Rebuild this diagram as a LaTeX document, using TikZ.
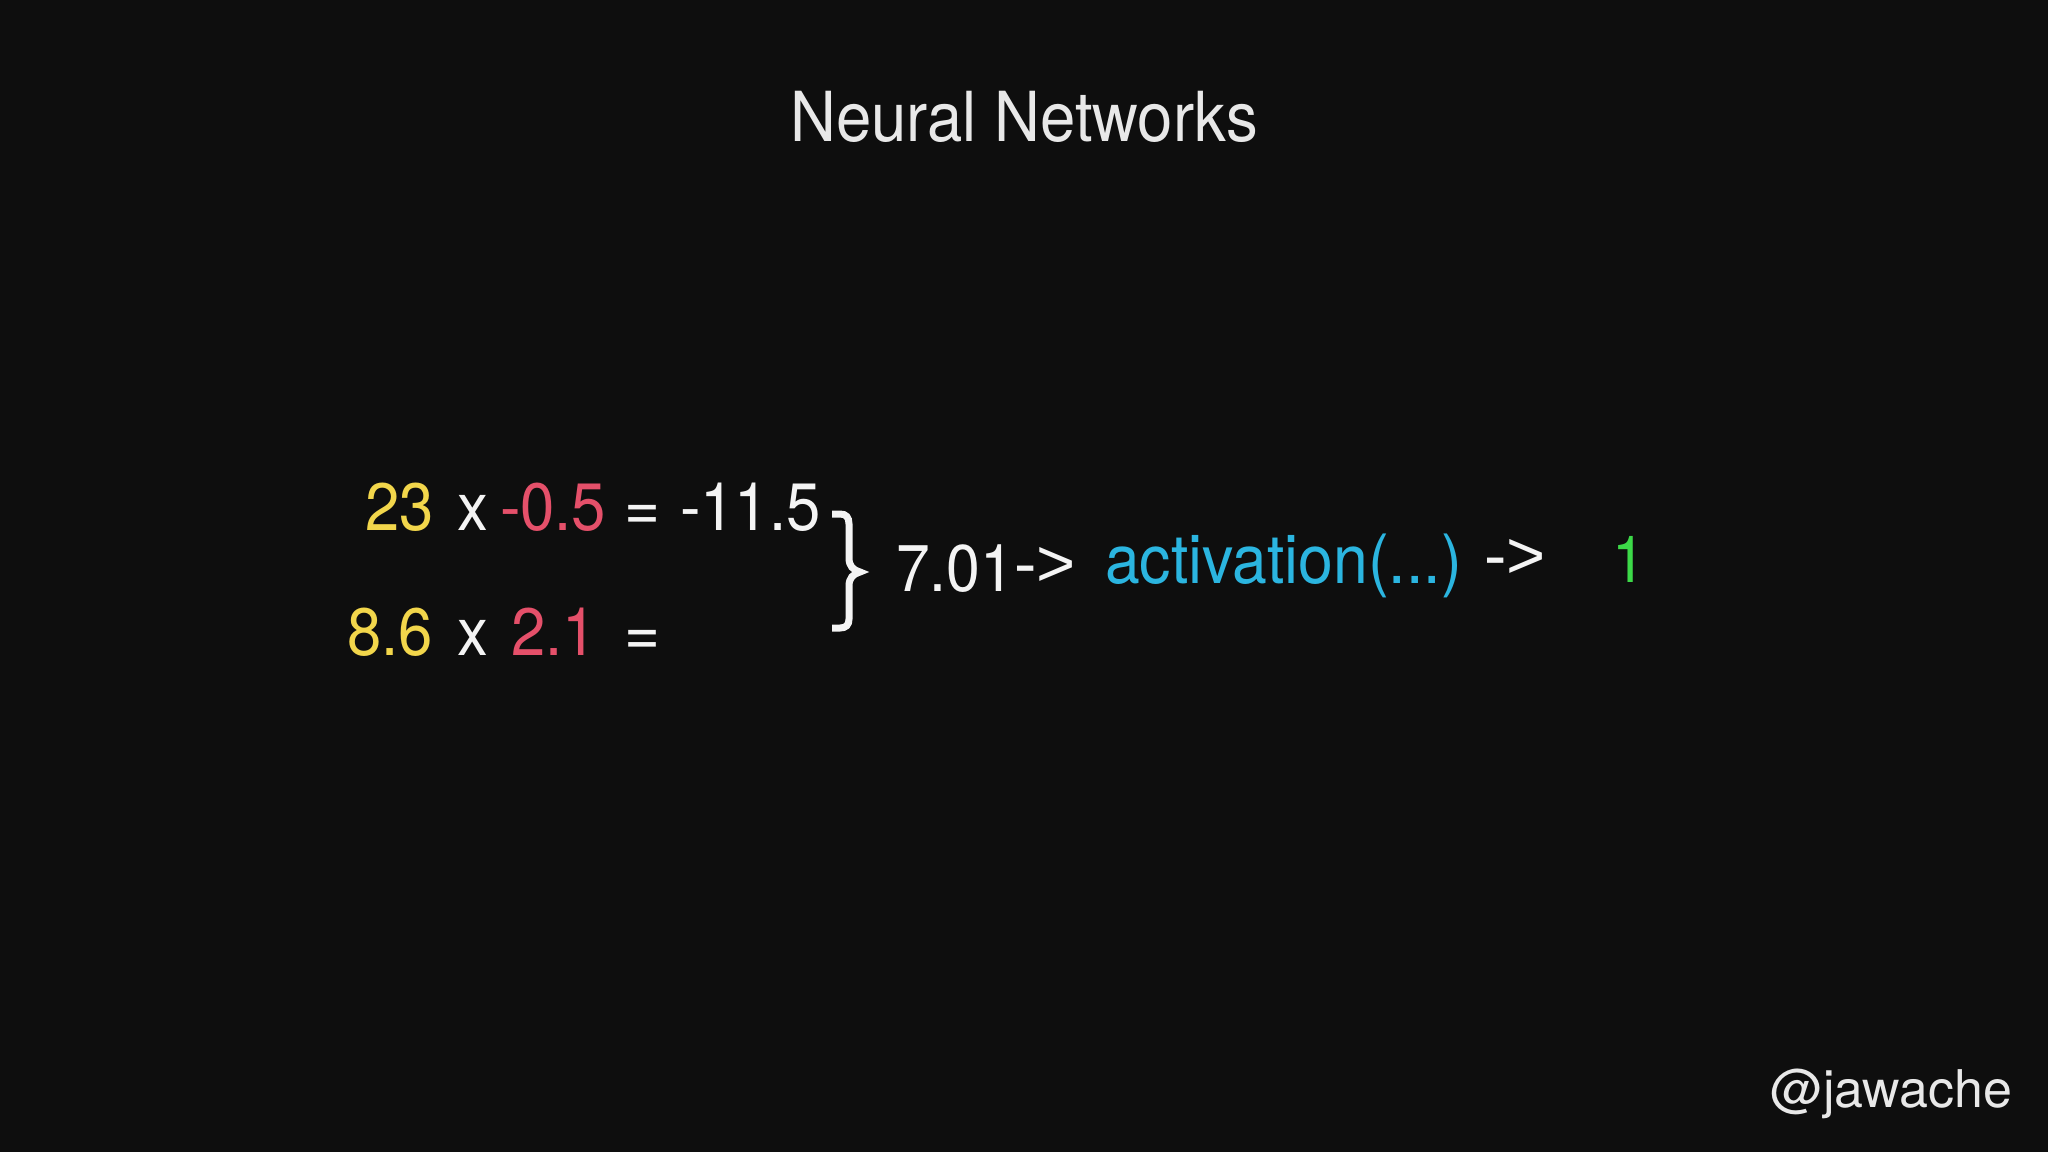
\documentclass[tikz,border=0pt]{standalone}
\usepackage{fontspec}
\setmainfont{TeX Gyre Heros}[FakeStretch=0.92]
\newfontfamily\plainheros{TeX Gyre Heros}
\newfontfamily\arrowfont{Liberation Sans}
\definecolor{bgc}{HTML}{0E0E0E}
\definecolor{yel}{HTML}{F2D64B}
\definecolor{redc}{HTML}{E5506A}
\definecolor{bluc}{HTML}{2BB5E0}
\definecolor{grnc}{HTML}{3CD948}
\definecolor{whc}{HTML}{F4F4F4}
\definecolor{ttl}{HTML}{E8E8E8}
\tikzset{
  txt/.style={inner sep=0pt, outer sep=0pt, anchor=base west, font=\fontsize{67}{80}\selectfont},
  wt/.style={txt, text=whc},
  yt/.style={txt, text=yel},
  rt/.style={txt, text=redc},
  bt/.style={txt, text=bluc},
  gt/.style={txt, text=grnc},
  arr/.style={txt, text=whc, font=\arrowfont\fontsize{67}{80}\selectfont},
}
\begin{document}
\begin{tikzpicture}[x=1pt,y=-1pt]
\fill[bgc] (0,0) rectangle (2048,1152);
\useasboundingbox (0,0) rectangle (2048,1152);
% title
\node[inner sep=0pt, anchor=base, text=ttl, font=\fontsize{69}{80}\selectfont] (title) at (1024,141) {Neural Networks};
% row 1
\node[yt] (a1) at (365,530) {23};
\node[wt] (x1) at (457,530) {x};
\node[rt] (w1) at (500,530) {-0.5};
\node[wt] (e1) at (624,530) {=};
\node[wt] (p1) at (680,530) {-11.5};
% row 2
\node[yt] (a2) at (347,655) {8.6};
\node[wt] (x2) at (457,655) {x};
\node[rt] (w2) at (511,655) {2.1};
\node[wt] (e2) at (624,655) {=};
% brace
\draw[whc, line width=7pt] (832,514) -- (840,514) .. controls (846,514) and (849,517) .. (849,524)
  -- (849,558) .. controls (849,566) and (853,570) .. (860,572)
  .. controls (853,574) and (849,578) .. (849,586)
  -- (849,619) .. controls (849,625) and (846,628) .. (840,628) -- (832,628);
% row 3
\node[wt, font=\fontsize{66}{80}\selectfont] (s) at (896,591) {7.01};
\node[arr] (ar1) at (1014,586) {->};
\node[bt, font=\fontsize{68}{80}\selectfont] (act) at (1105,583) {activation(...)};
\node[arr] (ar2) at (1484,578) {->};
\node[gt, font=\fontsize{65}{80}\selectfont] (out) at (1612,582) {1};
% watermark
\node[inner sep=0pt, anchor=base west, text=ttl, font=\plainheros\fontsize{52}{60}\selectfont] (wm) at (1770,1107) {@jawache};
\end{tikzpicture}
\end{document}
